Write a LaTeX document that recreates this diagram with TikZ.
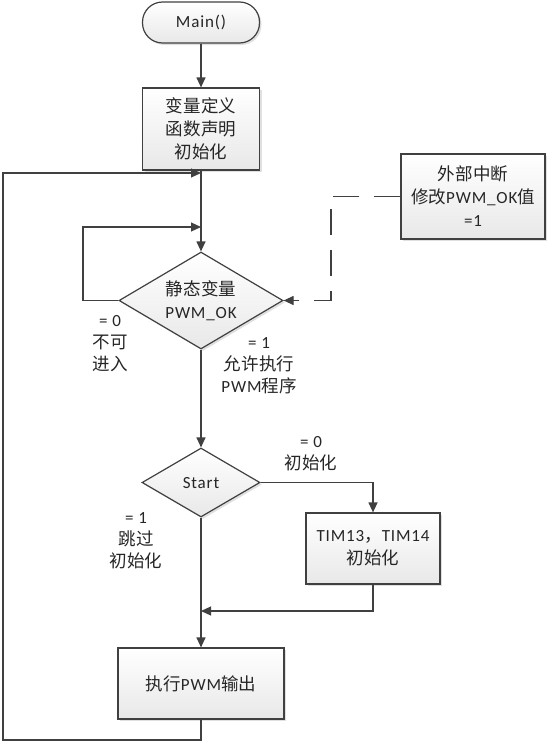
\documentclass[tikz,border=0pt]{standalone}
\usepackage{fontspec}
\setmainfont{Carlito}[LetterSpace=5]
\newfontfamily\cjk{Noto Sans CJK SC}[Scale=1.03]
\newcommand\zh[1]{{\cjk #1}}
\usetikzlibrary{arrows.meta,shapes.geometric,shadows}
\definecolor{ln}{HTML}{404040}
\tikzset{
  shapebase/.style={draw=ln, line width=1.2pt, top color=white, bottom color=black!9,
     drop shadow={fill=black!40, opacity=0.3, shadow xshift=2pt, shadow yshift=-2pt},
     align=center, font=\fontsize{17}{23}\selectfont, inner sep=0pt, text=black!85},
  procbox/.style={shapebase, rectangle},
  startbox/.style={shapebase, rectangle, rounded corners=20pt},
  decide/.style={shapebase, diamond},
  conn/.style={draw=ln, line width=1.2pt, -{Triangle[length=10pt,width=9pt]}},
  lbl/.style={align=center, font=\fontsize{17}{22}\selectfont, inner sep=0pt, text=black!85},
  dtext/.style={align=center, font=\fontsize{17}{23}\selectfont, inner sep=0pt, text=black!85}
}
\begin{document}
\begin{tikzpicture}[x=1pt,y=-1pt]
\useasboundingbox (0,0) rectangle (546,744);
\node[startbox, minimum width=117pt, minimum height=41pt] (main) at (201,22.5) {Main()};
\node[procbox, minimum width=117pt, minimum height=82pt] (init) at (201,129) {\zh{变量定义}\\\zh{函数声明}\\\zh{初始化}};
\node[decide, minimum width=164pt, minimum height=97pt] (d1) at (201,300.5) {};
\node[dtext] (d1t) at (201,301) {\zh{静态变量}\\PWM\_OK};
\node[procbox, minimum width=144pt, minimum height=85pt] (ext) at (473,196.5) {\zh{外部中断}\\\zh{修改}PWM\_OK\zh{值}\\=1};
\node[decide, minimum width=118pt, minimum height=69pt] (d2) at (201,482.5) {};
\node[dtext] (d2t) at (201,483) {Start};
\node[procbox, minimum width=134pt, minimum height=71pt] (tim) at (373,548.5) {TIM13\zh{，}TIM14\\\zh{初始化}};
\node[procbox, minimum width=166pt, minimum height=71pt] (out) at (201,683.5) {\zh{执行}PWM\zh{输出}};

\coordinate (j1) at (201,173);
\coordinate (j2) at (201,227);
\coordinate (j3) at (201,611);

\node[lbl] (l0) at (110,344) {= 0\\\zh{不可}\\\zh{进入}};
\node[lbl] (l1) at (259,366) {= 1\\\zh{允许执行}\\PWM\zh{程序}};
\node[lbl] (l2) at (311,454) {= 0\\\zh{初始化}};
\node[lbl] (l3) at (136,541) {= 1\\\zh{跳过}\\\zh{初始化}};

\draw[conn] (main.south) -- (init.north);
\draw[conn] (init.south) -- (d1.north);
\draw[conn] (out.south) -- (201,740) -- (3,740) -- (3,173) -- (j1);
\draw[conn] (d1.west) -- (83,300.5) -- (83,227) -- (j2);
\draw[conn, dash pattern=on 26pt off 15pt] (ext.west) -- (331,196.5) -- (331,300.5) -- (d1.east);
\draw[conn] (d1.south) -- (d2.north);
\draw[conn] (d2.east) -- (tim.north |- d2.east) -- (tim.north);
\draw[conn] (tim.south) -- (tim.south |- j3) -- (j3);
\draw[conn] (d2.south) -- (out.north);
\end{tikzpicture}
\end{document}
